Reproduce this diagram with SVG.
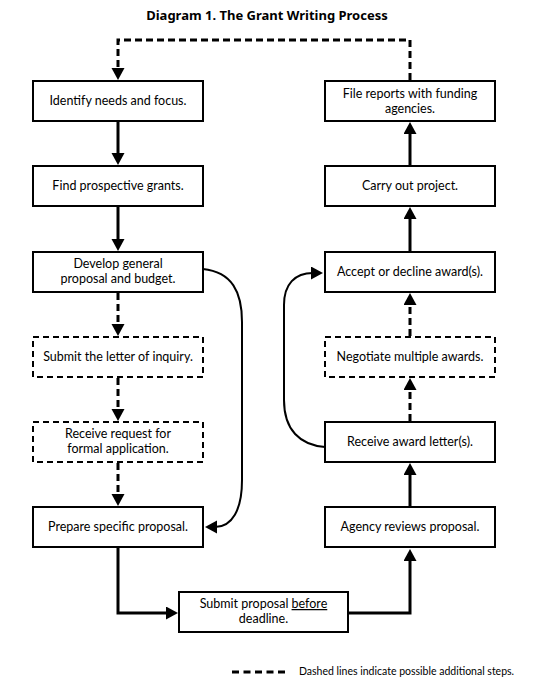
<svg xmlns="http://www.w3.org/2000/svg" width="533" height="688" viewBox="0 0 533 688">
<style>
  .box { fill: #fff; stroke: #000; stroke-width: 2; }
  .dbox { fill: #fff; stroke: #000; stroke-width: 2; stroke-dasharray: 6 4; }
  .lbl { font-family: Lato, "Noto Sans", "Liberation Sans", sans-serif; font-size: 12.5px; fill: #000; text-anchor: middle; }
  .title { font-family: "Noto Sans", "Liberation Sans", sans-serif; font-size: 13px; font-weight: bold; fill: #000; text-anchor: middle; }
  .legend { font-family: Lato, "Noto Sans", "Liberation Sans", sans-serif; font-size: 10.5px; fill: #000; }
  .solid { fill: none; stroke: #000; stroke-width: 3; }
  .dash { fill: none; stroke: #000; stroke-width: 3; stroke-dasharray: 7 4; }
  .curve { fill: none; stroke: #000; stroke-width: 2; }
</style>
<defs>
  <marker id="ah" markerUnits="userSpaceOnUse" markerWidth="14" markerHeight="14" refX="2" refY="6.5" orient="auto">
    <path d="M0,0 L12,6.5 L0,13 z" fill="#000"/>
  </marker>
</defs>

<text class="title" x="267" y="20">Diagram 1. The Grant Writing Process</text>

<g id="connectors">
  <path class="dash" d="M410,80 L410,40 L118,40 L118,70" marker-end="url(#ah)"/>
  <path class="solid" d="M118,122 L118,155" marker-end="url(#ah)"/>
  <path class="solid" d="M118,207 L118,241" marker-end="url(#ah)"/>
  <path class="dash" d="M118,293 L118,326" marker-end="url(#ah)"/>
  <path class="dash" d="M118,378 L118,411" marker-end="url(#ah)"/>
  <path class="dash" d="M118,463 L118,496" marker-end="url(#ah)"/>
  <path class="solid" d="M118,548 L118,613 L168,613" marker-end="url(#ah)"/>
  <path class="solid" d="M349,613 L410,613 L410,559" marker-end="url(#ah)"/>
  <path class="solid" d="M410,506 L410,473" marker-end="url(#ah)"/>
  <path class="dash" d="M410,421 L410,388" marker-end="url(#ah)"/>
  <path class="dash" d="M410,336 L410,303" marker-end="url(#ah)"/>
  <path class="solid" d="M410,251 L410,217" marker-end="url(#ah)"/>
  <path class="solid" d="M410,165 L410,132" marker-end="url(#ah)"/>
  <path class="curve" d="M203,269 C232,272 242,292 242,322 L242,480 C242,510 232,527 215,527" marker-end="url(#ah)"/>
  <path class="curve" d="M325,447 C300,445 284,430 284,400 L284,305 C284,284 295,273 313,273" marker-end="url(#ah)"/>
</g>

<g id="n-identify">
  <rect class="box" x="33" y="81" width="170" height="40"/>
  <text class="lbl" x="118" y="105">Identify needs and focus.</text>
</g>
<g id="n-find">
  <rect class="box" x="33" y="166" width="170" height="40"/>
  <text class="lbl" x="118" y="190">Find prospective grants.</text>
</g>
<g id="n-develop">
  <rect class="box" x="33" y="252" width="170" height="40"/>
  <text class="lbl" x="118" y="268">Develop general</text>
  <text class="lbl" x="118" y="283">proposal and budget.</text>
</g>
<g id="n-letter">
  <rect class="dbox" x="33" y="337" width="170" height="40"/>
  <text class="lbl" x="118" y="361">Submit the letter of inquiry.</text>
</g>
<g id="n-request">
  <rect class="dbox" x="33" y="422" width="170" height="40"/>
  <text class="lbl" x="118" y="438">Receive request for</text>
  <text class="lbl" x="118" y="453">formal application.</text>
</g>
<g id="n-prepare">
  <rect class="box" x="33" y="507" width="170" height="40"/>
  <text class="lbl" x="118" y="531">Prepare specific proposal.</text>
</g>
<g id="n-submit">
  <rect class="box" x="179" y="592" width="169" height="40"/>
  <text class="lbl" x="263.5" y="608">Submit proposal <tspan text-decoration="underline">before</tspan></text>
  <text class="lbl" x="263.5" y="623">deadline.</text>
</g>
<g id="n-agency">
  <rect class="box" x="325" y="507" width="170" height="40"/>
  <text class="lbl" x="410" y="531">Agency reviews proposal.</text>
</g>
<g id="n-receive">
  <rect class="box" x="325" y="422" width="170" height="40"/>
  <text class="lbl" x="410" y="446">Receive award letter(s).</text>
</g>
<g id="n-negotiate">
  <rect class="dbox" x="325" y="337" width="170" height="40"/>
  <text class="lbl" x="410" y="361">Negotiate multiple awards.</text>
</g>
<g id="n-accept">
  <rect class="box" x="325" y="252" width="170" height="40"/>
  <text class="lbl" x="410" y="276">Accept or decline award(s).</text>
</g>
<g id="n-carry">
  <rect class="box" x="325" y="166" width="170" height="40"/>
  <text class="lbl" x="410" y="190">Carry out project.</text>
</g>
<g id="n-file">
  <rect class="box" x="325" y="81" width="170" height="40"/>
  <text class="lbl" x="410" y="98">File reports with funding</text>
  <text class="lbl" x="410" y="113">agencies.</text>
</g>

<g id="legend">
  <line x1="232" y1="672" x2="285" y2="672" stroke="#000" stroke-width="3" stroke-dasharray="7 4.5"/>
  <text class="legend" x="299" y="675">Dashed lines indicate possible additional steps.</text>
</g>
</svg>
